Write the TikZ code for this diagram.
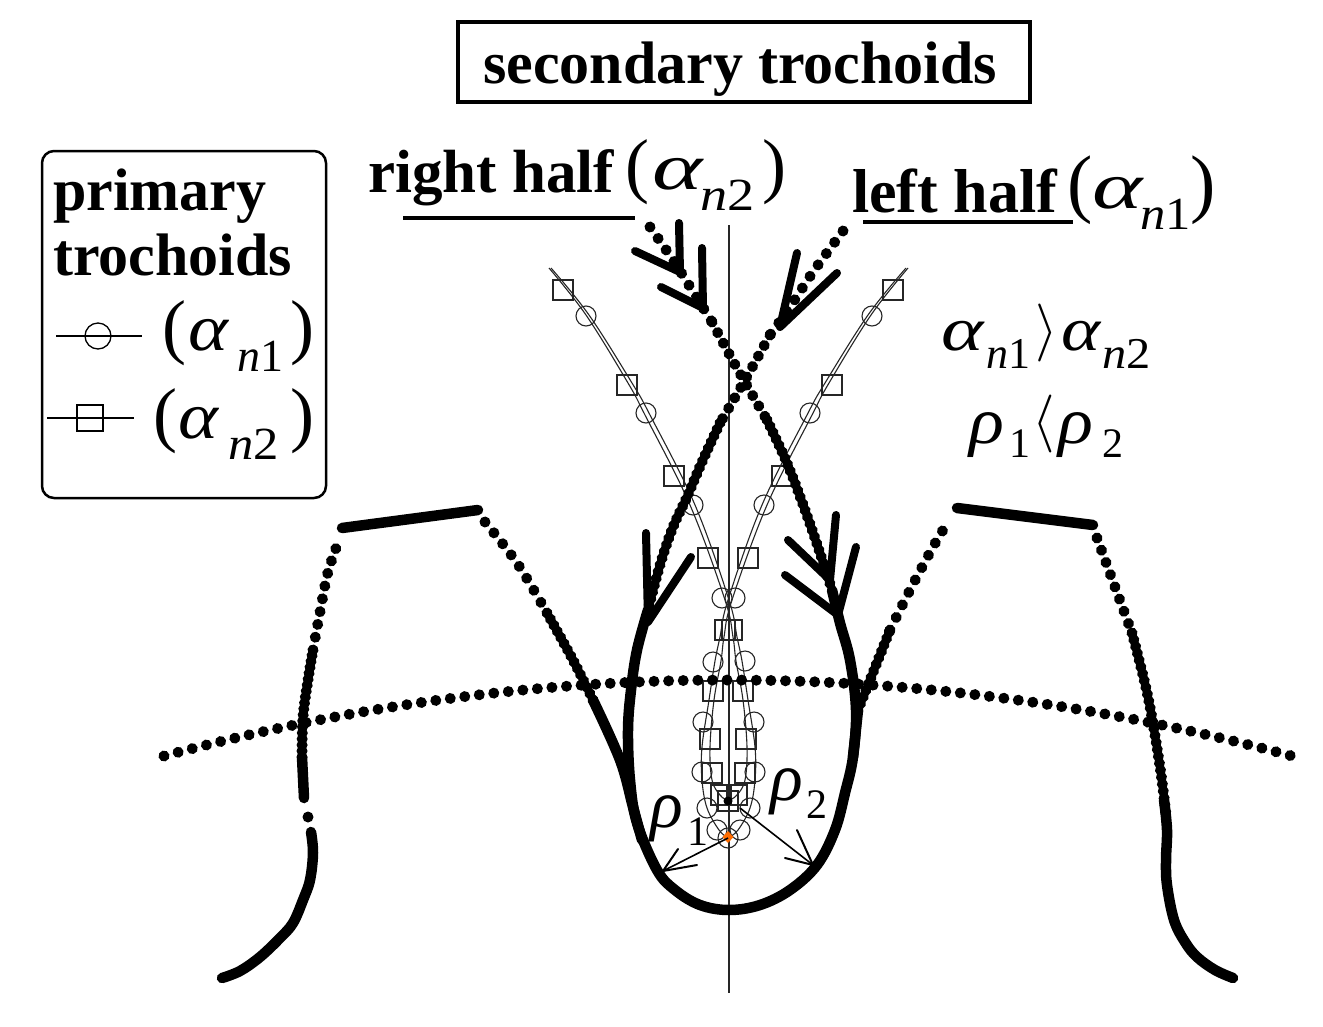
\documentclass[tikz,border=0pt]{standalone}
\usepackage{fontspec}
\usepackage{graphicx}
\setmainfont{Liberation Serif}
\newcommand{\fs}[1]{\fontsize{#1}{#1}\selectfont}
% widths: paren, alpha, sub; sub; sub xscale; alpha xscale; sizes
\newcommand{\alparen}[7]{\makebox[#1pt][l]{\fs{#7}(}\makebox[#2pt][l]{\scalebox{#6}[1]{\fs{66}\itshape α}}\makebox[#3pt][l]{\raisebox{-21pt}{\scalebox{#5}[1]{\fs{46}\itshape n\upshape #4}}}{\fs{#7})}}
\newcommand{\rhotxt}[3]{\makebox[#3pt][l]{\fs{68}\itshape ρ}\raisebox{-#2pt}{\fs{42}#1}}
\tikzset{
  dotline/.style={line width=11pt,line cap=round,draw=black,dash pattern=on 0.01pt off #1},
  solidline/.style={line width=10.5pt,line cap=round,line join=round,draw=black},
  barb/.style={line width=8pt,line cap=round,line join=round,draw=black},
  thinbarb/.style={line width=2pt,line cap=round,draw=black},
  mk/.style={line width=1.1pt,draw=black!85},
  troch/.style={line width=1.1pt,draw=black!85},
  txt/.style={inner sep=0pt,anchor=base west,text=black},
}
\begin{document}
\begin{tikzpicture}[x=1pt,y=-1pt]
\useasboundingbox (0,0) rectangle (1323,1026);
\fill[white] (0,0) rectangle (1323,1026);
% axis
\coordinate (axt) at (729,225);
\coordinate (axb) at (729,993);
\draw[line width=1.1pt,black!85] (axt) -- (axb);
% primary trochoids: outer (circle) curves
\draw[troch] plot[smooth,tension=.6] coordinates {(551,268) (589,315) (632,383) (650,415) (695,505) (729,600) (737,637) (742,661) (748,700) (755,747) (755,780) (750,808) (738,830) (728,838)};
\draw[troch] plot[smooth,tension=.6] coordinates {(906,268) (868,315) (825,383) (807,415) (762,505) (728,600) (720,637) (715,661) (709,700) (702,747) (702,780) (707,808) (719,830) (728,838)};
% primary trochoids: inner (square) curves
\draw[troch] plot[smooth,tension=.6] coordinates {(549,268) (586,315) (628,383) (645,415) (690,505) (725,600) (733,637) (736,661) (743,700) (747,747) (745,780) (737,795) (728,801)};
\draw[troch] plot[smooth,tension=.6] coordinates {(908,268) (871,315) (829,383) (812,415) (767,505) (732,600) (724,637) (721,661) (714,700) (710,747) (712,780) (720,795) (728,801)};
\foreach \x/\y in {586/316,646/413,693/505,722/598,872/316,810/413,764/505,735/598,713/662,745/661,703/722,754/722,702/772,755/772,707/808,750/808,717/830,740/830,728/838}
  \draw[mk] (\x,\y) circle[radius=10];
\foreach \x/\y in {563/290,627/385,674/476,708/558,893/290,832/385,782/476,748/558,725/630,732/630,713/691,743/691,710/739,746/739,712/773,745/773,721/795,737/795,728/801}
  \draw[mk] ({\x-10},{\y-10}) rectangle ({\x+10},{\y+10});
% pitch circle
\draw[dotline=14.6pt] (164,756) .. controls (540,654.7) and (916,654.7) .. (1292,756);
% left tooth
\draw[solidline] plot[smooth,tension=.6] coordinates {(222,978) (240,971) (260,957) (280,938) (293,923) (303,900) (310,880) (313,853) (311,832)};
\fill (308,817) circle[radius=5.5];
\draw[solidline] (304,798) -- (302,757);
\draw[dotline=6pt] plot[smooth,tension=.6] coordinates {(302,757) (303,717) (308,680) (313,650)};
\draw[dotline=13pt] plot[smooth,tension=.6] coordinates {(313,650) (320,612) (328,572) (338,543)};
\draw[solidline] (342,528) -- (478,510);
\draw[dotline=14pt] plot[smooth,tension=.6] coordinates {(485,522) (517,563) (547,613)};
\draw[dotline=7pt] plot[smooth,tension=.6] coordinates {(547,613) (573,660) (593,700)};
\draw[solidline] plot[smooth,tension=.6] coordinates {(593,700) (620,760) (633,807) (642,840)};
% right tooth
\draw[solidline] (853,757) -- (858,710);
\draw[dotline=7pt] plot[smooth,tension=.6] coordinates {(858,710) (870,680) (890,630)};
\draw[dotline=14pt] plot[smooth,tension=.6] coordinates {(890,630) (910,590) (933,547) (948,522)};
\draw[solidline] (957,508) -- (1093,525);
\draw[dotline=13pt] plot[smooth,tension=.6] coordinates {(1097,538) (1115,587) (1132,633)};
\draw[dotline=7pt] plot[smooth,tension=.6] coordinates {(1132,633) (1148,697) (1160,767) (1166,815)};
\draw[solidline] plot[smooth,tension=.6] coordinates {(1164,800) (1167,830) (1166,860) (1167,885) (1174,920) (1185,942) (1197,957) (1215,970) (1233,978)};
% secondary: left half
\draw[dotline=14pt] plot[smooth,tension=.6] coordinates {(843,231) (813,272) (790,307) (770,335)};
\draw[dotline=12pt] plot[smooth,tension=.6] coordinates {(770,335) (745,380) (720,423)};
\draw[dotline=7pt] plot[smooth,tension=.6] coordinates {(720,423) (702,462) (687,497) (673,527) (660,565) (648,610)};
\draw[solidline] plot[smooth,tension=.6] coordinates {(648,610) (637,650) (631,690) (628,730) (630,780) (637,823) (657,870) (675,890) (700,905) (729,910) (760,905) (790,890) (817,865) (835,830) (845,793) (853,757) (856,710) (850,660) (840,623) (832,590)};
% secondary: right half
\draw[dotline=14pt] plot[smooth,tension=.6] coordinates {(650,227) (673,260) (692,290) (712,322)};
\draw[dotline=12pt] plot[smooth,tension=.6] coordinates {(712,322) (738,370) (767,420)};
\draw[dotline=7pt] plot[smooth,tension=.6] coordinates {(767,420) (787,463) (805,510) (820,553) (832,590)};
% arrowheads
\draw[barb] (679,223) -- (680,272) -- (635,251);
\draw[barb] (702,248) -- (703,308) -- (661,287);
\draw[barb] (797,253) -- (780,327) -- (837,273);
\draw[barb] (646,533) -- (648,622) -- (691,557);
\draw[barb] (836,515) -- (830,580) -- (788,540);
\draw[barb] (856,547) -- (838,615) -- (785,575);
% centres
\fill[black] (728,801) circle[radius=4.5];
\fill[orange!85!red] (728,831) -- (733.5,837) -- (728,843) -- (722.5,837) -- cycle;
% rho arrows
\coordinate (c1) at (728,838);
\coordinate (r1) at (663,871);
\coordinate (c2) at (740,808);
\coordinate (r2) at (813,865);
\draw[line width=1.6pt] (c1) -- (r1);
\draw[thinbarb] (678,849) -- (r1) -- (697,865);
\draw[line width=1.6pt] (c2) -- (r2);
\draw[thinbarb] (797,830) -- (r2) -- (785,858);
\node[txt] (rho1) at (650,827) {\rhotxt{1}{18}{37}};
\node[txt] (rho2) at (770,800) {\rhotxt{2}{18}{36}};
% title
\draw[line width=4pt] (458,22) rectangle (1030,102);
\node[txt] (title) at (483,83) {\fs{60}\bfseries secondary trochoids};
% half labels
\node[txt] (rh) at (368,192) {\fs{61}\bfseries right half};
\node[txt] (rhg) at (625,189) {\alparen{27}{48}{62}{2}{1.18}{1.45}{72}};
\coordinate (u1a) at (403,218); \coordinate (u1b) at (635,218);
\draw[line width=4pt] (u1a) -- (u1b);
\node[txt] (lh) at (852,212) {\fs{62}\bfseries left half};
\node[txt] (lhg) at (1067,208) {\alparen{25}{48}{50}{1}{1.1}{1.45}{76}};
\coordinate (u2a) at (863,222); \coordinate (u2b) at (1073,222);
\draw[line width=4pt] (u2a) -- (u2b);
% relations
\node[txt] (rel1a) at (941,350) {\scalebox{1.3}[1]{\fs{62}\itshape α}};
\node[txt] (rel1b) at (986,368) {\fs{44}\itshape n\upshape 1};
\node[inner sep=0pt] (rel1c) at (1047,333) {\scalebox{5.8}{$\rangle$}};
\node[txt] (rel1d) at (1061,350) {\scalebox{1.2}[1]{\fs{62}\itshape α}};
\node[txt] (rel1e) at (1102,368) {\scalebox{1.1}[1]{\fs{44}\itshape n\upshape 2}};
\node[txt] (rel2a) at (969,443) {\scalebox{1.1}[1]{\fs{66}\itshape ρ}};
\node[txt] (rel2b) at (1009,457) {\fs{42}1};
\node[inner sep=0pt] (rel2c) at (1044,424) {\scalebox{5.8}{$\langle$}};
\node[txt] (rel2d) at (1058,443) {\scalebox{1.1}[1]{\fs{66}\itshape ρ}};
\node[txt] (rel2e) at (1102,457) {\fs{42}2};
% legend
\draw[line width=2.5pt,rounded corners=12pt] (42,151) rectangle (326,498);
\node[txt] (leg1) at (53,210) {\fs{60}\bfseries primary};
\node[txt] (leg2) at (53,275) {\fs{60}\bfseries trochoids};
\coordinate (la) at (56,336); \coordinate (lb) at (142,336);
\draw[line width=1.3pt] (la) -- (lb);
\draw[line width=1.3pt] (98,336) circle[radius=13];
\coordinate (lc) at (47,418); \coordinate (ld) at (134,418);
\draw[line width=1.3pt] (lc) -- (ld);
\draw[line width=1.3pt] (77,405) rectangle (103,431);
\node[txt] (leg3) at (162,350) {\alparen{26}{49}{53}{1}{1}{1.15}{72}};
\node[txt] (leg4) at (153,438) {\alparen{25}{50}{62}{2}{1.1}{1.15}{72}};
\end{tikzpicture}
\end{document}
